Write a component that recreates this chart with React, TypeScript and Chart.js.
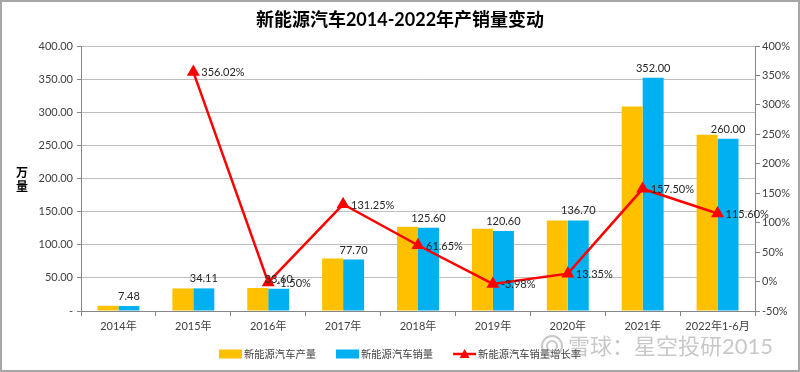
import React, { useEffect, useRef } from "react";
import { Chart, registerables } from "chart.js";

Chart.register(...registerables);

const categories = ["2014年", "2015年", "2016年", "2017年", "2018年", "2019年", "2020年", "2021年", "2022年1-6月"];
const production = [7.85, 34.05, 34.7, 79.4, 127.0, 124.2, 136.6, 308.5, 266.1];
const sales = [7.48, 34.11, 33.6, 77.7, 125.6, 120.6, 136.7, 352.0, 260.0];
const growth: (number | null)[] = [null, 356.02, -1.5, 131.25, 61.65, -3.98, 13.35, 157.5, 115.6];
const seriesNames = ["新能源汽车产量", "新能源汽车销量", "新能源汽车销量增长率"];
const titleText = "新能源汽车2014-2022年产销量变动";
const axisTitle = ["万", "量"];
const watermark = "雪球：星空投研2015";

const YELLOW = "#FFC000";
const BLUE = "#00B0F0";
const RED = "#FF0000";
const FONT = 'Lato, "Noto Sans CJK SC", sans-serif';

const overlay = {
  id: "overlay",
  afterDatasetsDraw(chart: any) {
    const ctx = chart.ctx;
    ctx.save();
    ctx.font = `11px ${FONT}`;
    ctx.fillStyle = "#262626";
    ctx.textAlign = "center";
    ctx.textBaseline = "bottom";
    const metaSales = chart.getDatasetMeta(2);
    metaSales.data.forEach((el: any, i: number) => {
      ctx.fillText(sales[i].toFixed(2), el.x, el.y - 4);
    });
    const metaLine = chart.getDatasetMeta(0);
    ctx.textAlign = "left";
    ctx.textBaseline = "middle";
    metaLine.data.forEach((el: any, i: number) => {
      const g = growth[i];
      if (g == null) return;
      ctx.fillText(g.toFixed(2) + "%", el.x + 8, el.y + 1);
    });
    ctx.restore();
  },
  afterDraw(chart: any) {
    const ctx = chart.ctx;
    const w = chart.width;
    ctx.save();
    // title
    ctx.font = `bold 18px ${FONT}`;
    ctx.fillStyle = "#000";
    ctx.textAlign = "center";
    ctx.textBaseline = "middle";
    ctx.fillText(titleText, w / 2, 18);
    // y axis title
    ctx.font = `bold 12px ${FONT}`;
    ctx.fillText(axisTitle[0], 20, 171);
    ctx.fillText(axisTitle[1], 20, 185);
    // legend
    ctx.font = `10.3px ${FONT}`;
    ctx.textAlign = "left";
    const box = 23;
    const gap = 2;
    const spacing = 20;
    const widths = seriesNames.map((n) => box + gap + ctx.measureText(n).width);
    const total = widths.reduce((a, b) => a + b, 0) + spacing * (widths.length - 1);
    let x = w / 2 - total / 2;
    const ly = 352;
    seriesNames.forEach((n, i) => {
      if (i === 0 || i === 1) {
        ctx.fillStyle = i === 0 ? YELLOW : BLUE;
        ctx.fillRect(x, ly - 4.5, box, 9);
      } else {
        ctx.strokeStyle = RED;
        ctx.lineWidth = 2.5;
        ctx.beginPath();
        ctx.moveTo(x, ly);
        ctx.lineTo(x + box, ly);
        ctx.stroke();
        ctx.fillStyle = RED;
        ctx.beginPath();
        ctx.moveTo(x + box / 2, ly - 5);
        ctx.lineTo(x + box / 2 + 5, ly + 4);
        ctx.lineTo(x + box / 2 - 5, ly + 4);
        ctx.closePath();
        ctx.fill();
      }
      ctx.fillStyle = "#404040";
      ctx.fillText(n, x + box + gap, ly + 1);
      x += widths[i] + spacing;
    });
    // watermark
    ctx.globalAlpha = 0.55;
    ctx.strokeStyle = "#9a9a9a";
    ctx.lineWidth = 2;
    ctx.beginPath();
    ctx.arc(550, 344, 10, 0, Math.PI * 2);
    ctx.stroke();
    ctx.beginPath();
    ctx.arc(550, 344, 5, 0, Math.PI * 2);
    ctx.stroke();
    ctx.fillStyle = "#9a9a9a";
    ctx.font = `22px ${FONT}`;
    ctx.textBaseline = "middle";
    ctx.fillText(watermark, 566, 345);
    ctx.restore();
  },
};

export default function App() {
  const ref = useRef<HTMLCanvasElement>(null);
  useEffect(() => {
    document.body.style.margin = "0";
    const chart = new Chart(ref.current!, {
      type: "bar",
      data: {
        labels: categories,
        datasets: [
          {
            type: "line",
            label: seriesNames[2],
            data: growth,
            yAxisID: "y1",
            borderColor: RED,
            backgroundColor: RED,
            borderWidth: 2.5,
            pointStyle: "triangle",
            pointRadius: 5,
            pointBackgroundColor: RED,
            pointBorderColor: RED,
            tension: 0,
            order: 0,
          } as any,
          {
            type: "bar",
            label: seriesNames[0],
            data: production,
            yAxisID: "y",
            backgroundColor: YELLOW,
            barPercentage: 1,
            categoryPercentage: 0.56,
            order: 1,
          },
          {
            type: "bar",
            label: seriesNames[1],
            data: sales,
            yAxisID: "y",
            backgroundColor: BLUE,
            barPercentage: 1,
            categoryPercentage: 0.56,
            order: 1,
          },
        ],
      },
      options: {
        animation: false,
        responsive: false,
        maintainAspectRatio: false,
        layout: { padding: { top: 44, left: 0, right: 0, bottom: 0 } },
        plugins: {
          legend: { display: false },
          title: { display: false },
          tooltip: { enabled: false },
        },
        scales: {
          x: {
            grid: { offset: true, drawOnChartArea: false, tickLength: 5, color: "#868686" },
            border: { color: "#868686" },
            ticks: { font: { size: 11, family: FONT }, color: "#404040", padding: 4, maxRotation: 0 },
            afterFit(scale: any) {
              scale.height = 59;
            },
          },
          y: {
            position: "left",
            min: 0,
            max: 400,
            ticks: {
              stepSize: 50,
              font: { size: 11, family: FONT },
              color: "#404040",
              padding: 4,
              callback: (v: any) => (Number(v) === 0 ? "-" : Number(v).toFixed(2)),
            },
            grid: { color: "#BFBFBF", tickLength: 4, tickColor: "#868686" },
            border: { color: "#868686" },
            afterFit(scale: any) {
              scale.width = 79;
            },
          },
          y1: {
            position: "right",
            min: -50,
            max: 400,
            ticks: {
              stepSize: 50,
              font: { size: 11, family: FONT },
              color: "#404040",
              padding: 2,
              callback: (v: any) => `${v}%`,
            },
            grid: { drawOnChartArea: false, tickLength: 5, color: "#868686" },
            border: { color: "#868686" },
            afterFit(scale: any) {
              scale.width = 43;
            },
          },
        },
      },
      plugins: [overlay],
    });
    return () => chart.destroy();
  }, []);
  return (
    <div
      style={{
        position: "fixed",
        left: 0,
        top: 0,
        width: 800,
        height: 372,
        border: "2px solid #A6A6A6",
        boxSizing: "border-box",
        background: "#fff",
      }}
    >
      <canvas ref={ref} width={796} height={368} style={{ display: "block", width: 796, height: 368 }} />
    </div>
  );
}
